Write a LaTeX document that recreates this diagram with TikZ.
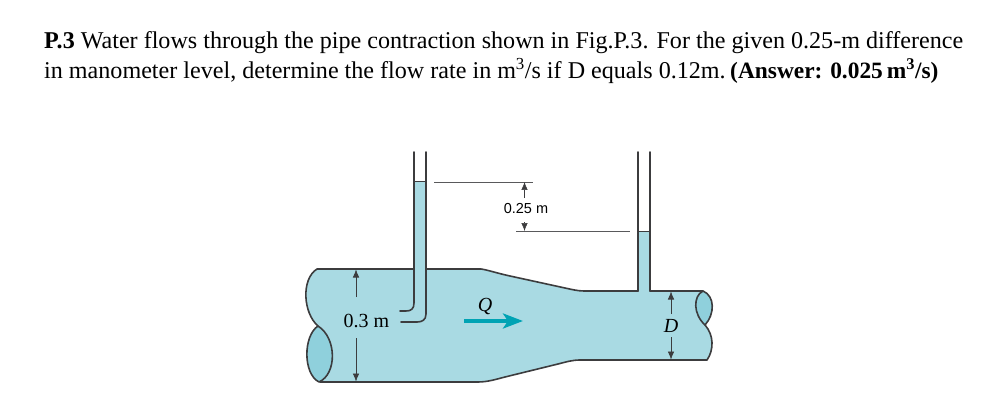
\documentclass[tikz,border=0pt]{standalone}
\usepackage{fontspec}
\setmainfont{Liberation Serif}
\newfontfamily\labelsans{Liberation Sans}
\usetikzlibrary{arrows.meta}
\definecolor{water}{HTML}{A9DAE3}
\definecolor{waterdark}{HTML}{8FD0DC}
\definecolor{flow}{HTML}{00A3B4}
\definecolor{wall}{HTML}{3C3C3E}
\tikzset{
  wallline/.style={draw=wall,line width=1.6pt,line cap=round,line join=round},
  thinline/.style={draw=wall!85,line width=0.9pt},
  dimline/.style={draw=wall,line width=0.6pt,-{Latex[length=8pt,width=6.5pt]}},
  flowarrow/.style={draw=flow,line width=4pt,-{Stealth[length=20pt,width=15pt,inset=5pt]}},
  titletext/.style={inner sep=0pt,anchor=base west,font=\fontsize{24.1}{26}\selectfont},
  dimtext/.style={inner sep=0pt,font=\fontsize{20}{22}\selectfont}
}
\begin{document}
\begin{tikzpicture}[x=1pt,y=-1pt]
\useasboundingbox (0,0) rectangle (1003,406);
% title
\node[titletext] (l1) at (44,48.5) {\textbf{P.3} Water flows through the pipe contraction shown in Fig.P.3. For the given 0.25-m difference};
\node[titletext] (l2) at (44,78.5) {in manometer level, determine the flow rate in m\textsuperscript{3}/s if D equals 0.12m.};
\node[titletext,font=\fontsize{23.4}{26}\selectfont\bfseries] (l3) at (730,78.5) {(Answer: 0.025\,m\textsuperscript{3}/s)};
% water body
\fill[water] (317,269) -- (481,269) .. controls (488,270) and (497,273.2) .. (510,276) -- (565,288) .. controls (572,289.5) and (578,291) .. (584,291)
  -- (703,291) -- (705,325) .. controls (714,335) and (714,350) .. (707,360)
  -- (580,360) .. controls (572,360) and (566,362) .. (558,364) -- (505,377) .. controls (497,379) and (488,382) .. (478,382) -- (320,382)
  -- (318,326) .. controls (303,313) and (301,279) .. (317,269) -- cycle;
\fill[water] (414,182) rectangle (426,270);
\fill[water] (638,231) rectangle (650,292);
% end lenses
\draw[wallline,fill=waterdark] (318,326) .. controls (303,336) and (303,374) .. (319,382) .. controls (337,374) and (337,338) .. (318,326) -- cycle;
\draw[wallline,fill=waterdark] (703,291) .. controls (693,296) and (693,314) .. (705,325) .. controls (715,314) and (715,296) .. (703,291) -- cycle;
% pipe outline
\draw[wallline] (318,326) .. controls (303,313) and (301,279) .. (317,269) -- (414,269);
\draw[wallline] (426,269) -- (481,269) .. controls (488,270) and (497,273.2) .. (510,276) -- (565,288) .. controls (572,289.5) and (578,291) .. (584,291) -- (638,291);
\draw[wallline] (650,291) -- (703,291);
\draw[wallline] (705,325) .. controls (714,335) and (714,350) .. (707,360) -- (580,360)
  .. controls (572,360) and (566,362) .. (558,364) -- (505,377) .. controls (497,379) and (488,382) .. (478,382) -- (320,382);
% left manometer
\draw[wallline] (414,152) -- (414,303) .. controls (414,309) and (411,311) .. (406,311) -- (400,311);
\draw[wallline] (426,152) -- (426,314) .. controls (426,320) and (422,322) .. (417,322) -- (401,322);
\draw[wallline,line width=1pt] (414,182) -- (426,182);
% right manometer
\draw[wallline] (638,152) -- (638,291);
\draw[wallline] (650,152) -- (650,291);
\draw[wallline,line width=1pt] (638,231) -- (650,231);
% level lines
\coordinate (la) at (434,182); \coordinate (lb) at (533,182);
\coordinate (lc) at (516,231); \coordinate (ld) at (630,231);
\draw[thinline] (la) -- (lb);
\draw[thinline] (lc) -- (ld);
% dimensions
\node[dimtext,font=\labelsans\fontsize{14.5}{16}\selectfont] (h) at (526,208.5) {0.25 m};
\coordinate (ha) at (524.5,182); \coordinate (hb) at (524.5,231);
\draw[dimline] (524.5,198) -- (ha);
\draw[dimline] (524.5,222) -- (hb);
\node[dimtext] (d1) at (366.5,321) {0.3 m};
\coordinate (d1a) at (356,269.5); \coordinate (d1b) at (356,381.5);
\draw[dimline] (356,297) -- (d1a);
\draw[dimline] (356,338) -- (d1b);
\node[dimtext] (d2) at (671,326) {\textit{D}};
\coordinate (d2a) at (671,291.5); \coordinate (d2b) at (671,359.5);
\draw[dimline] (671,314) -- (d2a);
\draw[dimline] (671,337) -- (d2b);
% flow
\node[dimtext] (q) at (485,306) {\textit{Q}};
\coordinate (fa) at (464,321); \coordinate (fb) at (523,321);
\draw[flowarrow] (fa) -- (fb);
\end{tikzpicture}
\end{document}
